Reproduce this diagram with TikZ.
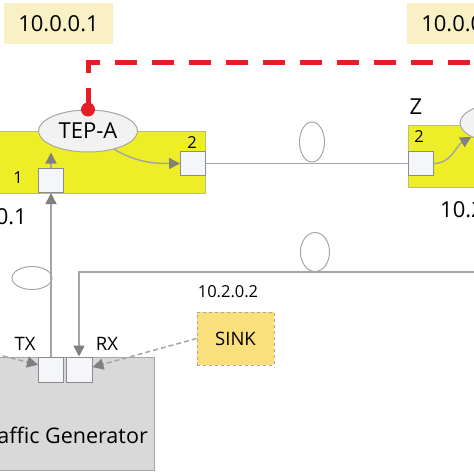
\documentclass[tikz,border=0pt]{standalone}
\usepackage{fontspec}
\setmainfont{Open Sans}
\usepackage{tikz}
\usetikzlibrary{arrows.meta,shapes.geometric}
\definecolor{ipfill}{RGB}{250,240,198}
\definecolor{devyellow}{RGB}{238,238,40}
\definecolor{devline}{RGB}{190,190,120}
\definecolor{portfill}{RGB}{244,246,250}
\definecolor{portline}{RGB}{140,140,140}
\definecolor{tepfill}{RGB}{242,242,242}
\definecolor{linegray}{RGB}{166,166,166}
\definecolor{arrowgray}{RGB}{128,128,128}
\definecolor{ctrlred}{RGB}{228,30,38}
\definecolor{sinkfill}{RGB}{250,224,124}
\definecolor{tgfill}{RGB}{217,217,217}
\tikzstyle{big} = [font=\fontsize{22}{26}\selectfont]
\tikzstyle{mid} = [font=\fontsize{18.5}{22}\selectfont]
\tikzstyle{small} = [font=\fontsize{16.5}{19}\selectfont]
\tikzstyle{addr} = [big, fill=ipfill, minimum width=109pt, minimum height=41pt]
\tikzstyle{dev} = [draw=devline, fill=devyellow, line width=0.8pt]
\tikzstyle{port} = [draw=portline, fill=portfill, line width=1pt, minimum width=25pt, minimum height=24pt, inner sep=0pt]
\tikzstyle{tep} = [big, draw=linegray, fill=tepfill, ellipse, line width=1pt, minimum width=99pt, minimum height=42pt, inner sep=0pt]
\tikzstyle{fiber} = [draw=linegray, ellipse, line width=1pt, inner sep=0pt]
\tikzstyle{link} = [draw=linegray, line width=1.5pt]
\tikzstyle{aux} = [link, dash pattern=on 5pt off 3pt]
\tikzstyle{ctrl} = [draw=ctrlred, line width=5pt, dash pattern=on 22pt off 15pt]
\tikzstyle{sinkbox} = [mid, draw=linegray, dashed, fill=sinkfill, line width=1pt, minimum width=77pt, minimum height=53pt]

\begin{document}
\begin{tikzpicture}[x=1pt,y=-1pt,>={Triangle[length=11pt,width=11pt,color=arrowgray]}]
  \useasboundingbox (0,0) rectangle (474,474);
  % address tags
  \node[addr](ipA) at (58.5,23.5){10.0.0.1};
  \node[addr](ipZ) at (461.5,23.5){10.0.0.2};
  % node A and node Z
  \node[dev,minimum width=225pt,minimum height=62pt](devA) at (92.5,162){};
  \node[dev,minimum width=112pt,minimum height=62pt](devZ) at (464,156){};
  \node[tep](tepA) at (88,131){TEP-A};
  \node[tep](tepZ) at (509.5,123){};
  \node[port](pA1) at (51,180.5){};
  \node[port](pA2) at (193,163.5){};
  \node[port](pZ2) at (420.5,163.5){};
  \node[small](nA1) at (18,178){1};
  \node[small](nA2) at (192,143){2};
  \node[small](nZ2) at (419,137){2};
  \node[big](nameZ) at (416,107){Z};
  \node[big,anchor=east,inner sep=0pt](ipA2) at (27,217){10.1.0.1};
  \node[big,anchor=west,inner sep=0pt](ipZ2) at (440,210){10.2.0.1};
  % control channel
  \coordinate (cr) at (490,62);
  \draw[ctrl] (tepA.north) |- (cr);
  \fill[ctrlred] (tepA.north) circle (7pt);
  % inside the nodes
  \draw[link,->] (pA1.north) -- (pA1.north |- tepA.south);
  \draw[link,->] (tepA.-35) to[out=-30,in=180] (pA2.west);
  \draw[link,->] (pZ2.east) to[out=0,in=-150] (tepZ.-160);
  % fibre links
  \draw[link] (pA2.east) -- (pZ2.west);
  \node[fiber,minimum width=25pt,minimum height=40pt](f1) at (312,142){};
  % traffic generator
  \node[draw=linegray,fill=tgfill,line width=1pt,minimum width=174pt,minimum height=113pt](tgen) at (67,413.5){};
  \node[font=\fontsize{21.5}{26}\selectfont,anchor=east,inner sep=0pt](tgname) at (148,435){Traffic Generator};
  \node[port,minimum height=25pt](tx) at (51,369.5){};
  \node[port,minimum width=26pt,minimum height=25pt](rx) at (79,369.5){};
  \node[mid](txl) at (25,344){TX};
  \node[mid](rxl) at (107,344){RX};
  \draw[link,->] (tx.north) -- (pA1.south);
  \node[fiber,minimum width=40pt,minimum height=23pt](f3) at (32,278){};
  \coordinate (zr) at (480,272);
  \draw[link,->] (zr) -| (rx.north);
  \node[fiber,minimum width=29pt,minimum height=39pt](f2) at (315,252){};
  % sink
  \node[small](ipS) at (228,292){10.2.0.2};
  \node[sinkbox](sink) at (235.5,338.5){SINK};
  \draw[aux,->] (sink.west) -- (rx.10);
  \coordinate (lf) at (-5,354);
  \draw[aux,->] (lf) -- (tx.160);
\end{tikzpicture}
\end{document}
